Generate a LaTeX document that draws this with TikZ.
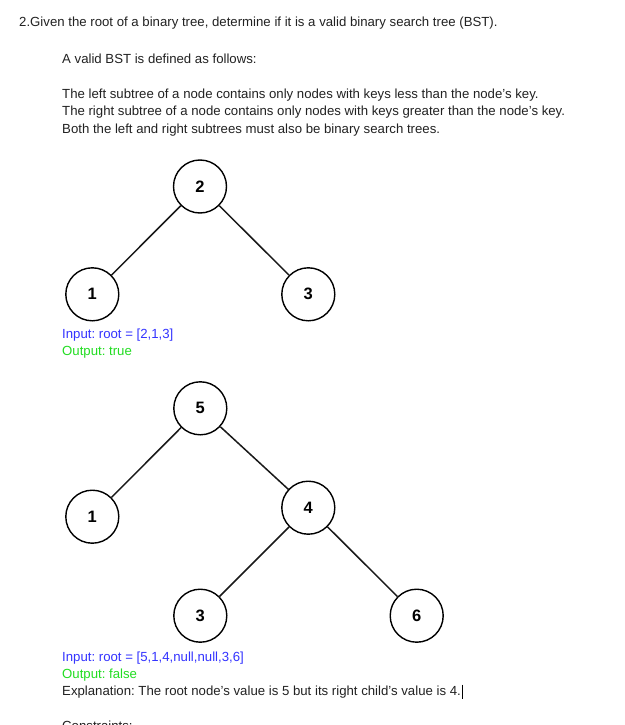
\documentclass[tikz,border=0pt]{standalone}
\usepackage{fontspec}
\setmainfont{Liberation Sans}
\frenchspacing
\definecolor{inblue}{RGB}{51,51,255}
\definecolor{outgreen}{RGB}{34,221,34}
\definecolor{txtgray}{RGB}{34,34,34}
\begin{document}
\begin{tikzpicture}[x=1pt,y=-1pt,
  txt/.style={anchor=base west,inner sep=0pt,font=\fontsize{13.2}{15}\selectfont,text=txtgray},
  tnode/.style={circle,draw=black,line width=1.4pt,minimum size=53pt,inner sep=0pt,font=\fontsize{16.5}{18}\selectfont\bfseries},
  edge/.style={line width=1.5pt,draw=black!90}]
\useasboundingbox[fill=white] (0,0) rectangle (624,725);
\node[txt] (h1) at (19,27) {2.Given the root of a binary tree, determine if it is a valid binary search tree (BST).};
\node[txt] (h2) at (62,63.5) {A valid BST is defined as follows:};
\node[txt] (h3) at (62,98) {The left subtree of a node contains only nodes with keys less than the node's key.};
\node[txt] (h4) at (62,115.5) {The right subtree of a node contains only nodes with keys greater than the node's key.};
\node[txt] (h5) at (62,133) {Both the left and right subtrees must also be binary search trees.};
% tree 1
\node[tnode] (a2) at (200,186.5) {2};
\node[tnode] (a1) at (92.3,294.3) {1};
\node[tnode] (a3) at (308.3,294.3) {3};
\draw[edge] (a2) -- (a1);
\draw[edge] (a2) -- (a3);
\node[txt,text=inblue] (in1) at (62,338) {Input: root = [2,1,3]};
\node[txt,text=outgreen] (out1) at (62,355.5) {Output: true};
% tree 2
\node[tnode] (b5) at (200.3,408.3) {5};
\node[tnode] (b1) at (92.3,516.7) {1};
\node[tnode] (b4) at (308.3,507.7) {4};
\node[tnode] (b3) at (200.3,615.7) {3};
\node[tnode] (b6) at (416.7,615.7) {6};
\draw[edge] (b5) -- (b1);
\draw[edge] (b5) -- (b4);
\draw[edge] (b4) -- (b3);
\draw[edge] (b4) -- (b6);
\node[txt,text=inblue] (in2) at (62,661.5) {Input: root = [5,1,4,null,null,3,6]};
\node[txt,text=outgreen] (out2) at (62,678.5) {Output: false};
\node[txt] (expl) at (62,695.5) {Explanation: The root node's value is 5 but its right child's value is 4.};
\coordinate (curtop) at ([xshift=1.5pt,yshift=11pt]expl.base east);
\coordinate (curbot) at ([xshift=1.5pt,yshift=-3pt]expl.base east);
\draw[line width=1.6pt,black] (curtop) -- (curbot);
\node[txt] (cons) at (62,730) {Constraints:};
\end{tikzpicture}
\end{document}
